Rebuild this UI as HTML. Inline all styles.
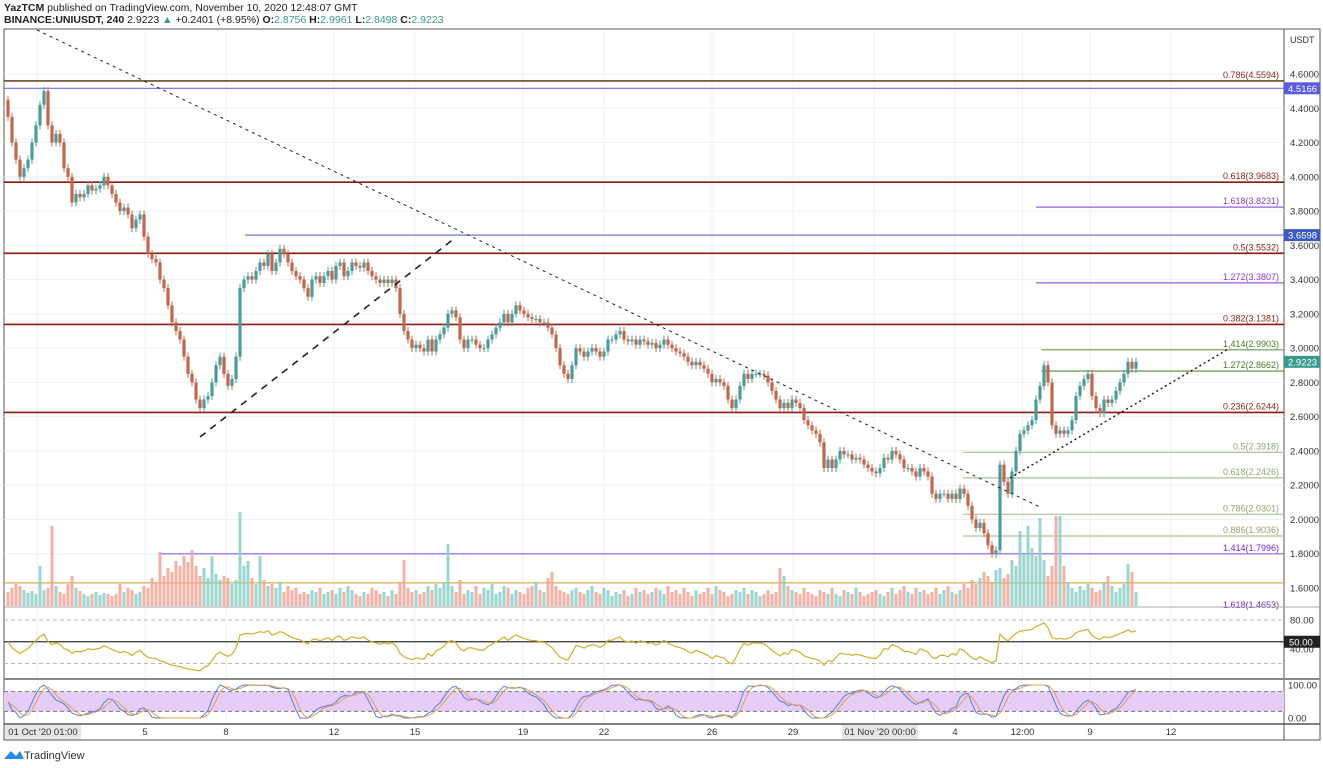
<!DOCTYPE html>
<html><head><meta charset="utf-8">
<style>
html,body{margin:0;padding:0;background:#fff;}
svg{display:block;font-family:"Liberation Sans",sans-serif;}
</style></head>
<body>
<svg id="c" width="1323" height="768" viewBox="0 0 1323 768" xmlns="http://www.w3.org/2000/svg">
<text x="4" y="11" font-size="10.5" fill="#222"><tspan font-weight="bold">YazTCM</tspan> published on TradingView.com, November 10, 2020 12:48:07 GMT</text>
<text x="4" y="23" font-size="10.5" fill="#222"><tspan font-weight="bold">BINANCE:UNIUSDT, 240</tspan> 2.9223 <tspan fill="#3a9a8a">▲</tspan> +0.2401 (+8.95%) <tspan font-weight="bold">O:</tspan><tspan fill="#3a9a8a">2.8756</tspan> <tspan font-weight="bold">H:</tspan><tspan fill="#3a9a8a">2.9961</tspan> <tspan font-weight="bold">L:</tspan><tspan fill="#3a9a8a">2.8498</tspan> <tspan font-weight="bold">C:</tspan><tspan fill="#3a9a8a">2.9223</tspan></text>
<rect x="4" y="29" width="1316" height="711" fill="none" stroke="#555" stroke-width="1"/>
<line x1="1284" y1="29" x2="1284" y2="740" stroke="#555"/>
<g id="grid"></g>
<g id="levels"></g>
<g id="vol"></g>
<g id="candles"></g>
<g id="trend"></g>
<g id="rsi"></g>
<g id="stoch"></g>
<g id="axes"></g>
<g>
<path d="M4 759 L11 751 L16 756 L20 751 L24 759 Z" fill="#2a8ae8"/>
<text x="24" y="759" font-size="11" fill="#333">TradingView</text>
</g>
</svg>
<script>
// ---------- DATA ----------
const closes = [
4.35,4.20,4.10,4.00,4.05,4.10,4.20,4.30,4.42,4.50,4.30,4.20,4.25,4.20,4.05,4.00,3.85,3.90,3.88,3.90,
3.95,3.92,3.93,3.95,4.00,3.95,3.90,3.85,3.80,3.82,3.78,3.70,3.75,3.78,3.65,3.55,3.52,3.50,3.40,3.35,
3.25,3.15,3.10,3.05,2.95,2.85,2.80,2.70,2.65,2.70,2.72,2.80,2.90,2.95,2.85,2.78,2.82,2.95,3.35,3.40,
3.42,3.40,3.45,3.50,3.48,3.55,3.45,3.50,3.58,3.55,3.50,3.45,3.42,3.40,3.35,3.30,3.40,3.42,3.38,3.42,
3.45,3.40,3.48,3.50,3.42,3.45,3.50,3.48,3.47,3.50,3.45,3.42,3.40,3.38,3.40,3.38,3.40,3.35,3.20,3.10,
3.05,3.00,3.02,3.00,2.98,3.05,2.98,3.05,3.08,3.12,3.20,3.22,3.18,3.05,3.00,3.05,3.05,3.02,3.00,3.00,
3.05,3.08,3.12,3.15,3.20,3.15,3.20,3.25,3.22,3.20,3.18,3.17,3.17,3.15,3.15,3.12,3.08,3.00,2.90,2.85,
2.82,2.90,3.00,2.98,2.95,2.98,3.00,2.98,2.95,2.98,3.05,3.05,3.08,3.10,3.05,3.04,3.05,3.02,3.05,3.04,
3.02,3.03,3.00,3.02,3.05,3.02,3.00,2.98,2.97,2.95,2.92,2.90,2.92,2.90,2.88,2.85,2.80,2.82,2.80,2.78,
2.70,2.65,2.70,2.78,2.85,2.82,2.85,2.85,2.85,2.84,2.80,2.75,2.70,2.65,2.68,2.65,2.70,2.68,2.65,2.58,
2.55,2.52,2.50,2.45,2.30,2.35,2.30,2.35,2.40,2.38,2.38,2.35,2.36,2.35,2.32,2.30,2.28,2.27,2.30,2.36,
2.35,2.40,2.38,2.35,2.30,2.30,2.28,2.25,2.30,2.28,2.25,2.15,2.12,2.15,2.15,2.12,2.15,2.12,2.18,2.15,
2.08,2.00,1.95,1.98,1.92,1.85,1.80,1.82,2.32,2.22,2.15,2.28,2.40,2.50,2.52,2.55,2.58,2.70,2.78,2.90,
2.80,2.55,2.50,2.52,2.50,2.52,2.58,2.72,2.78,2.82,2.85,2.72,2.65,2.62,2.70,2.68,2.70,2.75,2.80,2.85,
2.92,2.88,2.92];
const volumes = [
14,18,22,20,16,13,15,12,40,16,18,80,20,14,12,22,30,18,15,12,
10,12,14,11,13,12,10,12,22,14,18,16,12,14,20,18,28,24,54,30,
38,34,45,40,50,44,56,40,30,38,28,50,32,26,30,28,22,26,94,40,
45,28,22,50,26,20,22,18,24,14,20,16,18,12,14,12,16,14,18,12,
14,16,12,18,14,20,16,12,10,14,12,18,16,12,14,10,16,12,24,46,
18,14,16,12,14,20,16,22,18,24,62,20,14,26,12,16,14,20,12,18,
16,22,12,14,20,18,12,16,14,12,18,20,24,16,14,28,34,20,16,14,
12,16,18,14,12,16,20,14,12,18,16,10,14,12,16,10,12,18,14,16,
12,14,18,16,12,20,14,16,12,18,14,10,16,12,14,18,12,20,16,14,
10,12,16,14,18,12,16,14,10,12,16,12,14,38,30,20,16,14,12,18,
14,12,10,16,14,12,18,12,10,16,14,12,18,14,10,12,14,16,12,10,
14,18,12,16,20,14,12,18,14,16,12,14,18,12,16,20,14,12,16,22,
18,26,22,28,34,30,24,36,38,28,32,46,40,75,52,80,58,50,88,46,
30,40,90,90,40,24,18,14,20,16,22,18,14,16,24,30,20,14,18,22,
42,34,14];
const firstOpen = 4.45;
const priceTicks = [4.6,4.4,4.2,4.0,3.8,3.6,3.4,3.2,3.0,2.8,2.6,2.4,2.2,2.0,1.8,1.6];
const dayLabels = ["01 Oct '20  01:00","5","8","12","15","19","22","26","29","01 Nov '20  00:00","4","12:00","9","12"];
const dayOffsets = [0,4,7,11,14,18,21,25,28,31,34,36.5,39,42];
const levelPrices = [4.5594,4.5166,3.9683,3.8231,3.6598,3.5532,3.3807,3.1381,2.9903,2.8662,2.6244,2.3918,2.2426,2.0301,1.9036,1.7996,1.63,1.4653];
const levelLabels = ["0.786(4.5594)","","0.618(3.9683)","1.618(3.8231)","","0.5(3.5532)","1.272(3.3807)","0.382(3.1381)","1.414(2.9903)","1.272(2.8662)","0.236(2.6244)","0.5(2.3918)","0.618(2.2426)","0.786(2.0301)","0.886(1.9036)","1.414(1.7996)","","1.618(1.4653)"];

// ---------- SCALES ----------
const X0=8, X1=1136;
const xi = i => X0 + i*(X1-X0)/(closes.length-1);
const yP = p => 74 + (4.6-p)*171.33;
const xDay = d => 37 + d*27;
const yR = v => 649 + (40-v)*0.725;
const yS = v => 718 - v*0.33;
const VOLBASE=606;
const NS='http://www.w3.org/2000/svg';
function mk(parent,tag,attrs){const e=document.createElementNS(NS,tag);for(const k in attrs)e.setAttribute(k,attrs[k]);document.getElementById(parent).appendChild(e);return e;}

priceTicks.forEach(p=>{const l=mk('grid','line',{x1:4,x2:1284,y1:yP(p),y2:yP(p),stroke:'#f0f0f3'});

});
dayOffsets.forEach(d=>{const l=mk('grid','line',{x1:xDay(d),x2:xDay(d),y1:30,y2:724,stroke:'#f0f0f3'});

});

const levelColors=['#6b4a2a','#7a6ae0','#8b1a10','#9a5ae0','#5a6ac8','#8b1a10','#9a5ae0','#8b1a10','#6a9a4a','#5a8a3a','#8b1a10','#aac49a','#aac49a','#aac49a','#aac49a','#9a5ae0','#d8b040','#9a5ae0'];
const levelStarts=[null,null,null,37,7.7,null,37,null,37.2,37.2,null,34.3,34.3,34.3,34.3,4.55,null,null];
const levelText=['#8b2a1a','','#8b2a1a','#8a3ad0','','#8b2a1a','#8a3ad0','#8b2a1a','#4a7a2a','#4a7a2a','#8b2a1a','#8aaa6a','#8aaa6a','#8aaa6a','#8aaa6a','#7a2ad0','','#7a2ad0'];
levelPrices.forEach((p,i)=>{
  const y=yP(p); const xs=levelStarts[i]===null?4:xDay(levelStarts[i]);
  if(i<17){const l=mk('levels','line',{x1:xs,x2:1284,y1:y,y2:y,stroke:levelColors[i],'stroke-width':(levelColors[i]=='#8b1a10'||i==0)?1.6:1.2});
  
  }
  if(levelLabels[i]){const t=mk('levels','text',{x:1279,y:y-3,'font-size':9,'text-anchor':'end',fill:levelText[i]});t.textContent=levelLabels[i];
  
  }
});

volumes.forEach((v,i)=>{const o=i?closes[i-1]:firstOpen;const up=closes[i]>=o;
 const r=mk('vol','rect',{x:xi(i)-1.5,y:VOLBASE-v,width:3,height:v,fill:up?'#8ccfc8':'#f2a396',opacity:0.85});
 
 });

closes.forEach((c,i)=>{const o=i?closes[i-1]:firstOpen;const up=c>=o;const col=up?'#4f9a9a':'#c0684e';
 const yt=yP(Math.max(o,c)),yb=yP(Math.min(o,c));
 const w=mk('candles','line',{x1:xi(i),x2:xi(i),y1:yt-4,y2:yb+4,stroke:col,'stroke-width':1});
 
 
 const b=mk('candles','rect',{x:xi(i)-1.6,y:yt,width:3.2,height:Math.max(1,yb-yt),fill:col});
 
 });

[[37,30,1040,507,'3,4',1],[200,437,455,238,'7,6',1.6],[1010,478,1230,348,'2,3',1.5]].forEach(t=>{
 const l=mk('trend','line',{x1:t[0],y1:t[1],x2:t[2],y2:t[3],stroke:'#222','stroke-dasharray':t[4],'stroke-width':t[5]});
 
 });

// RSI (Wilder, seeded neutral)
const rsi=[];let ag=0.03,al=0.03;
closes.forEach((c,i)=>{if(i==0){rsi.push(50);return;}const d=c-closes[i-1];
 ag=(ag*13+Math.max(d,0))/14;al=(al*13+Math.max(-d,0))/14;rsi.push(al==0?100:100-100/(1+ag/al));});
const rp=mk('rsi','line',{x1:4,x2:1284,y1:yR(80),y2:yR(80),stroke:'#bbb','stroke-dasharray':'4,3'});


const rq=mk('rsi','line',{x1:4,x2:1284,y1:yR(20),y2:yR(20),stroke:'#bbb','stroke-dasharray':'4,3'});


const rm=mk('rsi','line',{x1:4,x2:1284,y1:yR(50),y2:yR(50),stroke:'#333','stroke-width':1.2});


const rl=mk('rsi','polyline',{points:rsi.map((v,i)=>xi(i)+','+yR(v)).join(' '),fill:'none',stroke:'#d4ae2a','stroke-width':1.2});



const st=rsi.map((v,i)=>{const w=rsi.slice(Math.max(0,i-13),i+1);const mn=Math.min(...w),mx=Math.max(...w);return mx-mn<1e-9?50:100*(v-mn)/(mx-mn);});
const sma=(a,n)=>a.map((v,i)=>{const w=a.slice(Math.max(0,i-n+1),i+1);return w.reduce((s,x)=>s+x,0)/w.length;});
const K=sma(st,3),D=sma(K,3);
const band=mk('stoch','rect',{x:4,y:yS(80),width:1280,height:yS(20)-yS(80),fill:'#e6cdf7'});


[80,20].forEach(v=>{const l=mk('stoch','line',{x1:4,x2:1284,y1:yS(v),y2:yS(v),stroke:'#777','stroke-dasharray':'4,3'});
 
 });
const kl=mk('stoch','polyline',{points:K.map((v,i)=>xi(i)+','+yS(v)).join(' '),fill:'none',stroke:'#5b7cf0','stroke-width':1});


const dl=mk('stoch','polyline',{points:D.map((v,i)=>xi(i)+','+yS(v)).join(' '),fill:'none',stroke:'#e0a050','stroke-width':1});



[[607,1,'#aaa'],[679,2,'#888'],[724,1.5,'#555']].forEach(s=>{const l=mk('axes','line',{x1:4,x2:1320,y1:s[0],y2:s[0],stroke:s[2],'stroke-width':s[1]});
 
 });
priceTicks.forEach(p=>{const t=mk('axes','text',{x:1290,y:yP(p)+3.5,'font-size':9.5,fill:'#333'});t.textContent=p.toFixed(4);
 
 });
const u=mk('axes','text',{x:1290,y:43,'font-size':9,fill:'#333'});u.textContent='USDT';


[[4.5166,'#5b5be0','4.5166'],[3.6598,'#3a5ac0','3.6598'],[closes[closes.length-1],'#3a9a90','2.9223']].forEach(b=>{
 const r=mk('axes','rect',{x:1284,y:yP(b[0])-6,width:36,height:12,fill:b[1]});
 
 
 const t=mk('axes','text',{x:1288,y:yP(b[0])+3.5,'font-size':9.5,fill:'#fff'});t.textContent=b[2];
 
 });
[[80,'80.00'],[40,'40.00']].forEach(r=>{const t=mk('axes','text',{x:1290,y:yR(r[0])+3.5,'font-size':9.5,fill:'#333'});t.textContent=r[1];
 
 });
const rb=mk('axes','rect',{x:1284,y:yR(50)-6,width:36,height:12,fill:'#222'});


const rbt=mk('axes','text',{x:1289,y:yR(50)+3.5,'font-size':9.5,fill:'#fff'});rbt.textContent='50.00';


[[100,'100.00'],[0,'0.00']].forEach(r=>{const t=mk('axes','text',{x:1288,y:yS(r[0])+3.5,'font-size':9.5,fill:'#333'});t.textContent=r[1];
 
 });
dayLabels.forEach((s,i)=>{const x=xDay(dayOffsets[i]);const boxed=s.length>5;
 if(boxed){const r=mk('axes','rect',{x:x-32,y:725,width:76,height:14,fill:'#e6e6e6'});
  
  }
 const t=mk('axes','text',{x:boxed?x+6:x,y:735,'font-size':9.5,fill:'#333','text-anchor':'middle','xml:space':'preserve'});t.textContent=s;
 
 });
</script>
</body></html>
